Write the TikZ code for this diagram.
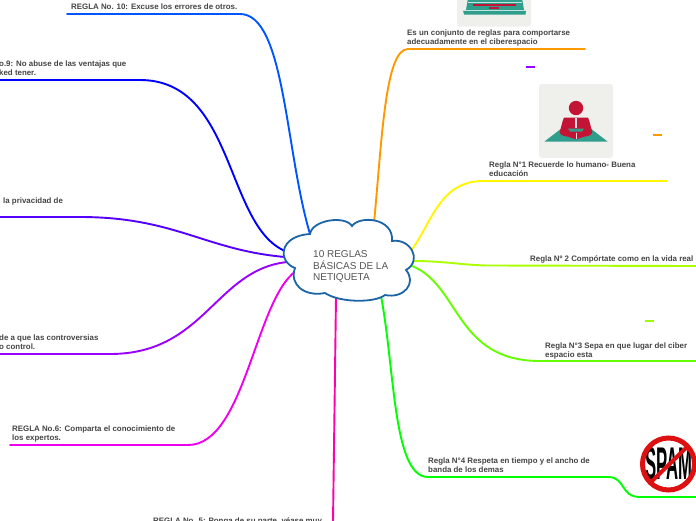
\documentclass[tikz,border=0pt]{standalone}
\usepackage{fontspec}
\setmainfont{Liberation Sans}
\definecolor{ctext}{HTML}{444444}
\definecolor{cmain}{HTML}{555555}
\definecolor{cloudb}{HTML}{1B64A8}
\definecolor{cbox}{HTML}{EFEFEB}
\definecolor{cteal}{HTML}{2F9E8C}
\definecolor{cred}{HTML}{C41435}
\definecolor{cspam}{HTML}{DD1111}
\tikzset{
  lab/.style={anchor=north west,inner sep=0pt,align=left,text=ctext,
    font=\fontsize{7.9}{9}\selectfont\bfseries,execute at begin node={\rule{0pt}{6pt}}},
  branch/.style={line width=1.9pt,line cap=round},
  tick/.style={line width=2pt},
  iconbox/.style={fill=cbox,rounded corners=3pt},
}
\begin{document}
\begin{tikzpicture}[x=1pt,y=-1pt]
\useasboundingbox (0,0) rectangle (696,520);
\clip (0,0) rectangle (696,520);
% branch end points
\coordinate (cOrange) at (374,223);
\coordinate (cYellow) at (411,251);
\coordinate (cLime) at (413,261);
\coordinate (cGreenA) at (412,266);
\coordinate (cGreenB) at (381,296);
\coordinate (cPink) at (336,297);
\coordinate (cMag) at (296,271);
\coordinate (cVioA) at (287,262);
\coordinate (cVioB) at (285,257);
\coordinate (cBlueA) at (285,251);
\coordinate (cBlueB) at (310,234);
\coordinate (eOrange) at (585,49);
\coordinate (eYellow) at (667,181);
\coordinate (eLime) at (697,266);
\coordinate (eGreenA) at (697,361);
\coordinate (eGreenB) at (697,497);
\coordinate (ePink) at (333,521);
\coordinate (eMag) at (10,445);
\coordinate (eVioA) at (-1,354);
\coordinate (eVioB) at (-1,217);
\coordinate (eBlueA) at (-1,80);
\coordinate (eBlueB) at (67,14);
% branches
\draw[branch,color={rgb,255:red,255;green,153;blue,0}] (cOrange) .. controls (382,140) and (385,49) .. (408,49) -- (eOrange);
\draw[branch,color={rgb,255:red,255;green,247;blue,0}] (cYellow) .. controls (432,222) and (440,181) .. (483,181) -- (eYellow);
\draw[branch,color={rgb,255:red,170;green,255;blue,0}] (cLime) .. controls (445,261) and (465,265.5) .. (490,265.5) -- (eLime);
\draw[branch,color={rgb,255:red,102;green,255;blue,0}] (cGreenA) .. controls (460,285) and (455,361) .. (540,361) -- (eGreenA);
\draw[branch,color={rgb,255:red,0;green,255;blue,0}] (cGreenB) .. controls (395,370) and (393,477) .. (428,477) -- (608,477) .. controls (626,477) and (620,497) .. (640,497) -- (eGreenB);
\draw[branch,color={rgb,255:red,255;green,0;blue,170}] (cPink) .. controls (335,370) and (334,450) .. (ePink);
\draw[branch,color={rgb,255:red,238;green,0;blue,238}] (cMag) .. controls (255,300) and (245,445) .. (188,445) -- (eMag);
\draw[branch,color={rgb,255:red,153;green,0;blue,255}] (cVioA) .. controls (215,270) and (205,354) .. (110,354) -- (eVioA);
\draw[branch,color={rgb,255:red,85;green,0;blue,255}] (cVioB) .. controls (205,250) and (175,217) .. (80,217) -- (eVioB);
\draw[branch,color={rgb,255:red,0;green,0;blue,255}] (cBlueA) .. controls (225,225) and (235,80) .. (140,80) -- (eBlueA);
\draw[branch,color={rgb,255:red,0;green,85;blue,255}] (cBlueB) .. controls (285,150) and (285,14) .. (240,14) -- (eBlueB);
% cloud
\draw[line width=1.8pt,cloudb,fill=white] (310,234)
 .. controls (312,220) and (345,215) .. (352,226)
 .. controls (360,215) and (394,218) .. (392,241)
 .. controls (410,238) and (423,260) .. (406,270)
 .. controls (417,283) and (404,299) .. (385,295)
 .. controls (375,303) and (340,303) .. (325,293)
 .. controls (305,297) and (289,285) .. (295,268)
 .. controls (278,262) and (278,236) .. (310,234) -- cycle;
\node[anchor=north west,inner sep=0pt,align=left,text=cmain,font=\fontsize{10}{11.5}\selectfont] (center) at (313,250.5) {10 REGLAS\\BÁSICAS DE LA\\NETIQUETA};
% small ticks
\coordinate (t1a) at (526,66.5); \coordinate (t1b) at (535,66.5);
\coordinate (t2a) at (653,134.5); \coordinate (t2b) at (662,134.5);
\coordinate (t3a) at (645,321); \coordinate (t3b) at (654,321);
\draw[tick,color={rgb,255:red,153;green,0;blue,255}] (t1a) -- (t1b);
\draw[tick,color={rgb,255:red,255;green,153;blue,0}] (t2a) -- (t2b);
\draw[tick,color={rgb,255:red,153;green,255;blue,0}] (t3a) -- (t3b);
% laptop icon
\fill[iconbox] (457,-10) rectangle (531,26.7);
\fill[cteal] (468,-2) -- (522,-2) -- (524,10) -- (466,10) -- cycle;
\fill[cteal] (463,10.5) -- (526,10.5) -- (525.5,14.5) -- (464,14.5) -- cycle;
\fill[white!70!cteal] (463,10) rectangle (526,10.8);
\fill[white!70!cteal] (468,2) rectangle (522,3);
\fill[cred] (473,4.4) rectangle (515.5,6.3);
\fill[cred] (489,7.4) rectangle (499,9);
% person icon
\fill[iconbox] (539,84) rectangle (613,158);
\fill[cteal] (562,128) -- (590,128) -- (607.5,141.5) -- (544.5,141.5) -- cycle;
\fill[cred] (576,108) circle (7.2);
\fill[cred] (564,117.5) -- (588,117.5) .. controls (590,122) and (591,128) .. (592,131) .. controls (593,134) and (590,136) .. (585,136.5) -- (577,139) -- (575,139) -- (567,136.5) .. controls (562,136) and (559,134) .. (560,131) .. controls (561,128) and (562,122) .. (564,117.5) -- cycle;
\fill[white!85!cred] (574.6,117.5) -- (577.4,117.5) -- (577.4,128) -- (574.6,128) -- cycle;
\fill[cteal] (568,128.5) -- (584,128.5) -- (582,131.5) -- (570,131.5) -- cycle;
\draw[white!85!cred,line width=0.5pt] (576,132.5) -- (576,139);
% spam icon
\node[inner sep=0pt,font=\bfseries,text=black] (spam) at (668.5,464) {\resizebox{47pt}{32pt}{SPAM}};
\draw[line width=5pt,cspam] (668.5,464) circle (26);
\coordinate (s1) at (650,483); \coordinate (s2) at (688,446);
\draw[line width=4pt,cspam] (s1) -- (s2);
% labels
\node[lab] (n0) at (407,30) {Es un conjunto de reglas para comportarse\\adecuadamente en el ciberespacio};
\node[lab] (n1) at (489,162) {Regla N°1 Recuerde lo humano- Buena\\educación};
\node[lab] (n2) at (530,255) {Regla Nº 2 Compórtate como en la vida real};
\node[lab] (n3) at (545,343) {Regla N°3 Sepa en que lugar del ciber\\espacio esta};
\node[lab] (n4) at (428,458) {Regla N°4 Respeta en tiempo y el ancho de\\banda de los demas};
\node[lab] (n10) at (71,3) {REGLA No. 10: Excuse los errores de otros.};
\node[lab] (n9) at (-1,61) {o.9: No abuse de las ventajas que\\ked tener.};
\node[lab] (n8) at (3,197) {la privacidad de};
\node[lab] (n7) at (-1,335) {de a que las controversias\\o control.};
\node[lab] (n6) at (12,426) {REGLA No.6: Comparta el conocimiento de\\los expertos.};
\node[lab] (n5) at (153,517) {REGLA No. 5: Ponga de su parte, véase muy};
\end{tikzpicture}
\end{document}
